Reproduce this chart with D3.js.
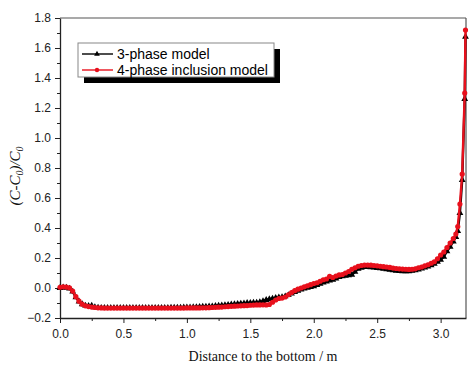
<!DOCTYPE html>
<html><head><meta charset="utf-8">
<script src="https://cdn.jsdelivr.net/npm/d3@7"></script>
<style>body{margin:0;background:#fff}svg{display:block}</style>
</head><body>
<svg id="c" width="474" height="380"></svg>
<script>
const distance = [0,0.025,0.05,0.075,0.1,0.125,0.15,0.175,0.2,0.225,0.25,0.275,0.3,0.325,0.35,0.375,0.4,0.425,0.45,0.475,0.5,0.525,0.55,0.575,0.6,0.625,0.65,0.675,0.7,0.725,0.75,0.775,0.8,0.825,0.85,0.875,0.9,0.925,0.95,0.975,1.0,1.025,1.05,1.075,1.1,1.125,1.15,1.175,1.2,1.225,1.25,1.275,1.3,1.325,1.35,1.375,1.4,1.425,1.45,1.475,1.5,1.525,1.55,1.575,1.6,1.625,1.65,1.675,1.7,1.725,1.75,1.775,1.8,1.825,1.85,1.875,1.9,1.925,1.95,1.975,2.0,2.025,2.05,2.075,2.1,2.125,2.15,2.175,2.2,2.225,2.25,2.275,2.3,2.325,2.35,2.375,2.4,2.425,2.45,2.475,2.5,2.525,2.55,2.575,2.6,2.625,2.65,2.675,2.7,2.725,2.75,2.775,2.8,2.825,2.85,2.875,2.9,2.925,2.95,2.975,3.0,3.025,3.05,3.075,3.1,3.12,3.135,3.152,3.17,3.19,3.196];

const threePhase = [0.0,0.004,0.002,-0.004,-0.024,-0.062,-0.09,-0.108,-0.117,-0.12,-0.118,-0.128,-0.131,-0.132,-0.133,-0.133,-0.133,-0.133,-0.133,-0.133,-0.133,-0.133,-0.133,-0.133,-0.133,-0.133,-0.133,-0.133,-0.133,-0.133,-0.132,-0.132,-0.132,-0.132,-0.132,-0.131,-0.131,-0.131,-0.131,-0.13,-0.13,-0.129,-0.128,-0.127,-0.126,-0.125,-0.124,-0.123,-0.122,-0.12,-0.118,-0.116,-0.114,-0.112,-0.11,-0.108,-0.106,-0.104,-0.102,-0.1,-0.099,-0.098,-0.097,-0.094,-0.088,-0.08,-0.075,-0.071,-0.066,-0.063,-0.061,-0.056,-0.047,-0.037,-0.027,-0.018,-0.011,-0.004,0.002,0.007,0.012,0.019,0.028,0.037,0.043,0.049,0.054,0.063,0.073,0.078,0.082,0.085,0.088,0.108,0.128,0.134,0.139,0.14,0.138,0.136,0.133,0.131,0.128,0.125,0.122,0.118,0.115,0.113,0.112,0.112,0.112,0.114,0.118,0.123,0.129,0.136,0.143,0.152,0.162,0.175,0.188,0.208,0.245,0.275,0.31,0.34,0.38,0.5,0.72,1.26,1.675];

const fourPhase = [0.005,0.008,0.006,0.001,-0.02,-0.058,-0.088,-0.108,-0.119,-0.124,-0.127,-0.13,-0.132,-0.133,-0.134,-0.134,-0.134,-0.134,-0.134,-0.134,-0.134,-0.134,-0.134,-0.134,-0.134,-0.134,-0.134,-0.134,-0.134,-0.134,-0.134,-0.134,-0.134,-0.134,-0.134,-0.134,-0.134,-0.134,-0.134,-0.134,-0.133,-0.133,-0.133,-0.133,-0.133,-0.132,-0.132,-0.131,-0.13,-0.129,-0.128,-0.127,-0.125,-0.124,-0.122,-0.121,-0.12,-0.119,-0.118,-0.117,-0.115,-0.114,-0.113,-0.113,-0.112,-0.113,-0.11,-0.095,-0.08,-0.07,-0.067,-0.06,-0.045,-0.03,-0.018,-0.008,0.0,0.008,0.015,0.022,0.03,0.035,0.045,0.055,0.06,0.078,0.07,0.08,0.087,0.09,0.1,0.11,0.125,0.135,0.145,0.15,0.153,0.153,0.152,0.15,0.148,0.145,0.142,0.14,0.137,0.133,0.13,0.128,0.126,0.125,0.124,0.125,0.128,0.135,0.14,0.148,0.155,0.165,0.175,0.195,0.22,0.24,0.27,0.3,0.33,0.36,0.41,0.56,0.76,1.3,1.72];

const xTicks = [0.0,0.5,1.0,1.5,2.0,2.5,3.0];
const yTicks = [-0.2,0.0,0.2,0.4,0.6,0.8,1.0,1.2,1.4,1.6,1.8];
const seriesNames = ["3-phase model","4-phase inclusion model"];
const seriesColors = ["#000000","#e8101c"];

const svg = d3.select("#c");
const L = 60, R = 466, T = 18, B = 318;
const x = d3.scaleLinear().domain([0,3.2]).range([L,R]);
const y = d3.scaleLinear().domain([-0.2,1.8]).range([B,T]);

svg.append("line").attr("x1",L).attr("x2",R).attr("y1",T).attr("y2",T).attr("stroke","#555").attr("stroke-width",1.2);
svg.append("line").attr("x1",R).attr("x2",R).attr("y1",T).attr("y2",B).attr("stroke","#555").attr("stroke-width",1.2);

const xMinor = [0.25,0.75,1.25,1.75,2.25,2.75];
const yMinor = [-0.1,0.1,0.3,0.5,0.7,0.9,1.1,1.3,1.5,1.7];
svg.append("g").attr("transform",`translate(0,${B})`)
  .call(d3.axisBottom(x).tickValues(xMinor).tickSize(3).tickFormat(""))
  .call(g=>g.select(".domain").remove());
svg.append("g").attr("transform",`translate(${L},0)`)
  .call(d3.axisLeft(y).tickValues(yMinor).tickSize(3).tickFormat(""))
  .call(g=>g.select(".domain").remove());

const gx = svg.append("g").attr("transform",`translate(0,${B})`)
  .call(d3.axisBottom(x).tickValues(xTicks).tickSize(5).tickSizeOuter(0).tickPadding(6).tickFormat(d3.format(".1f")));
const gy = svg.append("g").attr("transform",`translate(${L},0)`)
  .call(d3.axisLeft(y).tickValues(yTicks).tickSize(5).tickSizeOuter(0).tickPadding(4).tickFormat(d3.format(".1f")));
[gx,gy].forEach(g=>{
  g.selectAll("text").attr("font-family","Liberation Sans, Arial, sans-serif").attr("font-size",12).attr("fill","#222");
  g.select(".domain").attr("stroke","#222").attr("stroke-width",1.3);
});
svg.selectAll(".tick line").attr("stroke","#222");

const all = [threePhase, fourPhase];
const line = d3.line().x((d,i)=>x(distance[i])).y(d=>y(d));
all.forEach((vals,si)=>{
  const g = svg.append("g");
  g.append("path").attr("d",line(vals)).attr("fill","none")
    .attr("stroke",seriesColors[si]).attr("stroke-width",2.4);
  if(si===0){
    g.selectAll("path.m").data(vals).join("path").attr("class","m")
      .attr("d",d3.symbol(d3.symbolTriangle,20)())
      .attr("transform",(d,i)=>`translate(${x(distance[i])},${y(d)})`)
      .attr("fill",seriesColors[si]);
  } else {
    g.selectAll("circle").data(vals).join("circle")
      .attr("cx",(d,i)=>x(distance[i])).attr("cy",d=>y(d)).attr("r",2.6)
      .attr("fill",seriesColors[si]);
  }
});

const lg = svg.append("g");
lg.append("rect").attr("x",84).attr("y",49).attr("width",196).attr("height",34).attr("fill","#000");
lg.append("rect").attr("x",78).attr("y",43).attr("width",196).attr("height",34).attr("fill","#fff").attr("stroke","#888").attr("stroke-width",1);
seriesNames.forEach((n,i)=>{
  const yy = 54 + i*16;
  lg.append("line").attr("x1",82).attr("x2",113).attr("y1",yy).attr("y2",yy).attr("stroke",seriesColors[i]).attr("stroke-width",1.4);
  if(i===0) lg.append("path").attr("d",d3.symbol(d3.symbolTriangle,14)()).attr("transform",`translate(97,${yy})`).attr("fill",seriesColors[i]);
  else lg.append("circle").attr("cx",97).attr("cy",yy).attr("r",2.2).attr("fill",seriesColors[i]);
  lg.append("text").attr("x",117).attr("y",yy+5).text(n)
    .attr("font-family","Liberation Sans, Arial, sans-serif").attr("font-size",14).attr("fill","#000");
});

svg.append("text").attr("x",263).attr("y",361).attr("text-anchor","middle")
  .attr("font-family","Liberation Serif, Times New Roman, serif").attr("font-size",14).attr("fill","#111")
  .text("Distance to the bottom / m");
const yl = svg.append("text").attr("transform","translate(20,176) rotate(-90)").attr("text-anchor","middle")
  .attr("font-family","Liberation Serif, Times New Roman, serif").attr("font-size",15).attr("font-style","italic").attr("fill","#111");
yl.append("tspan").text("(C-C");
yl.append("tspan").text("0").attr("font-size",10).attr("dy",3);
yl.append("tspan").text(")/C").attr("dy",-3);
yl.append("tspan").text("0").attr("font-size",10).attr("dy",3);
</script>
</body></html>
